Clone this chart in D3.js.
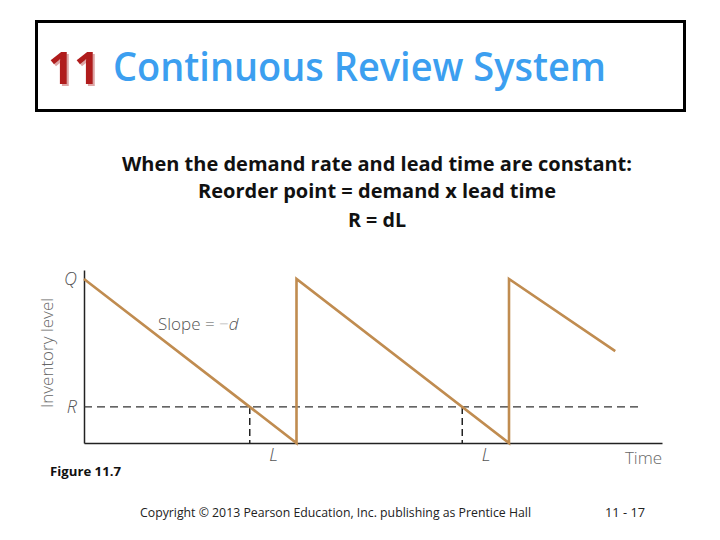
<!DOCTYPE html>
<html>
<head>
<meta charset="utf-8">
<script src="https://cdn.jsdelivr.net/npm/d3@7"></script>
<style>
  html, body { margin: 0; padding: 0; background: #fff; }
</style>
</head>
<body>
<div id="chart"></div>
<script>
// inventory over time (sawtooth), time in order cycles, level in % of Q
const times = [0, 1, 1, 2, 2, 2.5];
const inventory = [100, 0, 100, 0, 100, 56];
const reorderLevel = 22;
const reorderTimes = [0.78, 1.78];
const leadLabels = [0.89, 1.89];
const yTickValues = [100, 22];
const yTickLabels = ["Q", "R"];

const width = 720, height = 540;
const svg = d3.select("#chart").append("svg")
    .attr("width", width).attr("height", height)
    .style("font-family", "'Open Sans', sans-serif");

// helper: squeeze text to a given width (slide font is narrow)
function fit(sel, w) {
    sel.attr("textLength", w).attr("lengthAdjust", "spacingAndGlyphs");
    return sel;
}

// shadow for the chapter number
svg.append("defs").append("filter")
    .attr("id", "numShadow")
    .append("feDropShadow")
    .attr("dx", 2).attr("dy", 2).attr("stdDeviation", 0.6)
    .attr("flood-color", "#d08080").attr("flood-opacity", 0.7);

// title box
svg.append("rect")
    .attr("x", 36.5).attr("y", 21.5).attr("width", 648).attr("height", 89)
    .attr("fill", "none").attr("stroke", "#000").attr("stroke-width", 3);

fit(svg.append("text").attr("x", 48).attr("y", 84)
    .style("font-size", "44px").style("font-weight", "bold")
    .attr("fill", "#b01e1e").attr("filter", "url(#numShadow)").text("11"), 52);
fit(svg.append("text").attr("x", 113).attr("y", 81)
    .style("font-size", "40px").style("font-weight", "600")
    .attr("fill", "#3c9ff0").text("Continuous Review System"), 493);

// statement lines
const lines = [
    ["When the demand rate and lead time are constant:", 171, 510],
    ["Reorder point = demand x lead time", 198, 358],
    ["R = dL", 227, 58]
];
lines.forEach(([t, y, w]) => {
    fit(svg.append("text").attr("x", 377 - w / 2).attr("y", y)
        .style("font-size", "20px").style("font-weight", "bold")
        .attr("fill", "#111").text(t), w);
});

// chart
const x = d3.scaleLinear().domain([0, 2.72]).range([84, 662]);
const y = d3.scaleLinear().domain([0, 105.5]).range([443, 270]);

const yAxis = svg.append("g")
    .attr("transform", `translate(${x(0)},0)`)
    .call(d3.axisLeft(y).tickValues(yTickValues).tickSize(0).tickPadding(7)
        .tickFormat((d, i) => yTickLabels[i]));
yAxis.select(".domain").attr("stroke", "#222").attr("stroke-width", 1.5);
yAxis.selectAll("text")
    .style("font-family", "'Open Sans', sans-serif")
    .style("font-size", "18px").style("font-style", "italic")
    .style("font-weight", "300").attr("fill", "#555");

const xAxis = svg.append("g")
    .attr("transform", `translate(0,${y(0)})`)
    .call(d3.axisBottom(x).tickValues(leadLabels).tickSize(0).tickPadding(5)
        .tickFormat(() => "L"));
xAxis.select(".domain").attr("stroke", "#222").attr("stroke-width", 1.5);
xAxis.selectAll("text")
    .style("font-family", "'Open Sans', sans-serif")
    .style("font-size", "18px").style("font-style", "italic")
    .style("font-weight", "300").attr("fill", "#555");

// reorder level dashed line
svg.append("line")
    .attr("x1", x(0)).attr("x2", x(2.61))
    .attr("y1", y(reorderLevel)).attr("y2", y(reorderLevel))
    .attr("stroke", "#333").attr("stroke-width", 1.2)
    .attr("stroke-dasharray", "8,5");

svg.selectAll(".lead")
    .data(reorderTimes)
    .join("line")
    .attr("x1", d => x(d)).attr("x2", d => x(d))
    .attr("y1", y(reorderLevel)).attr("y2", y(0))
    .attr("stroke", "#222").attr("stroke-width", 1.5)
    .attr("stroke-dasharray", "7,4");

// sawtooth
const pts = times.map((t, i) => [t, inventory[i]]);
svg.append("path")
    .datum(pts)
    .attr("fill", "none")
    .attr("stroke", "#c08c50")
    .attr("stroke-width", 2.6)
    .attr("stroke-linejoin", "miter")
    .attr("d", d3.line().x(d => x(d[0])).y(d => y(d[1])));

// labels
svg.append("text")
    .attr("transform", `translate(53,${(295 + 411) / 2}) rotate(-90)`)
    .attr("text-anchor", "middle")
    .style("font-size", "17px").style("font-weight", "300")
    .attr("fill", "#666").text("Inventory level");

const slope = svg.append("text").attr("x", 158).attr("y", 330)
    .style("font-size", "17px").style("font-weight", "300").attr("fill", "#555");
slope.append("tspan").text("Slope = ");
slope.append("tspan").attr("fill", "#bbb").text("\u2212");
slope.append("tspan").style("font-style", "italic").text("d");

svg.append("text").attr("x", 662).attr("y", 464)
    .attr("text-anchor", "end")
    .style("font-size", "17px").style("font-weight", "300")
    .attr("fill", "#666").text("Time");

fit(svg.append("text").attr("x", 50).attr("y", 476)
    .style("font-size", "13px").style("font-weight", "bold")
    .attr("fill", "#111").text("Figure 11.7"), 71);

// footer
fit(svg.append("text").attr("x", 140).attr("y", 517)
    .style("font-size", "13px").attr("fill", "#222")
    .text("Copyright \u00a9 2013 Pearson Education, Inc. publishing as Prentice Hall"), 391);
fit(svg.append("text").attr("x", 605).attr("y", 517)
    .style("font-size", "13px").attr("fill", "#222")
    .text("11 - 17"), 40);
</script>
</body>
</html>
